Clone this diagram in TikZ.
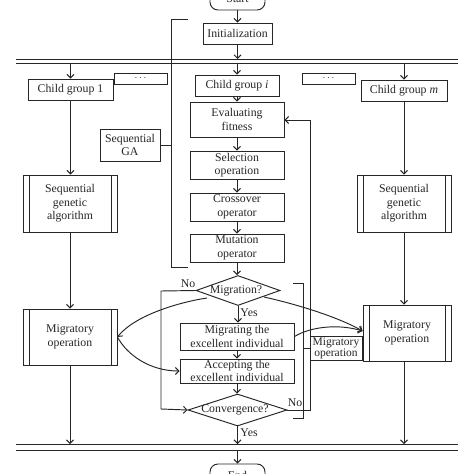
\documentclass[tikz,border=0pt]{standalone}
\usepackage{fontspec}
\setmainfont{Liberation Serif}
\usetikzlibrary{arrows.meta,shapes.geometric}
\begin{document}
\begin{tikzpicture}[x=1pt,y=-1pt,line width=0.95pt,color=black!85,
  every node/.style={font=\fontsize{11.8}{13.6}\selectfont},
  box/.style={draw,rectangle,inner sep=0pt,align=center},
  term/.style={box,rounded corners=8pt},
  dia/.style={draw,diamond,inner sep=0pt},
  lbl/.style={inner sep=0pt},
  arr/.style={-{Straight Barb[length=3.5pt,width=7pt]}}]
\useasboundingbox[fill=white] (0,0) rectangle (474,474);
% double lines
\coordinate (tA) at (16,59);   \coordinate (tB) at (458,59);
\coordinate (tC) at (16,63.5); \coordinate (tD) at (458,63.5);
\coordinate (bA) at (16,444);  \coordinate (bB) at (458,444);
\coordinate (bC) at (16,450);  \coordinate (bD) at (458,450);
\draw (tA) -- (tB); \draw (tC) -- (tD);
\draw (bA) -- (bB); \draw (bC) -- (bD);
% nodes
\node[term,minimum width=55,minimum height=22] (start) at (237.5,-1) {Start};
\node[term,minimum width=55,minimum height=22] (end) at (237.5,475) {End};
\node[box,minimum width=69,minimum height=21] (init) at (237.5,33.5) {Initialization};
\node[box,minimum width=53,minimum height=11] (dots1) at (140.5,78.5) {\fontsize{10}{8}\selectfont$\cdots$};
\node[box,minimum width=53,minimum height=11] (dots2) at (328.5,78.5) {\fontsize{10}{8}\selectfont$\cdots$};
\node[box,minimum width=85,minimum height=21] (cg1) at (70.5,89.5) {Child group 1};
\node[box,minimum width=84,minimum height=21] (cgi) at (237,85.5) {Child group \textit{i}};
\node[box,minimum width=86,minimum height=21] (cgm) at (404,90.5) {Child group \textit{m}};
\node[box,minimum width=94,minimum height=35] (eval) at (237,119.5) {Evaluating\\fitness};
\node[box,minimum width=94,minimum height=28] (sel) at (237,165) {Selection\\operation};
\node[box,minimum width=94,minimum height=28] (cross) at (237,207) {Crossover\\operator};
\node[box,minimum width=94,minimum height=28] (mut) at (237,248) {Mutation\\operator};
\node[dia,aspect=2.8,minimum width=84,minimum height=30] (mig) at (238,290.5) {};
\node[lbl] (migt) at (236,291) {Migration?};
\node[box,minimum width=114,minimum height=27] (migr) at (237,336.5) {Migrating the\\excellent individual};
\node[box,minimum width=114,minimum height=24] (acc) at (237,371) {Accepting the\\excellent individual};
\node[dia,aspect=3.1,minimum width=99,minimum height=32] (conv) at (237.5,410) {};
\node[lbl] (convt) at (235,410) {Convergence?};
\node[box,minimum width=60,minimum height=32] (seqga) at (130,145) {Sequential\\GA};
\node[box,minimum width=94,minimum height=57] (seqL) at (70,203.5) {Sequential\\genetic\\algorithm};
\node[box,minimum width=94,minimum height=57] (seqR) at (404,203.5) {Sequential\\genetic\\algorithm};
\node[box,minimum width=94,minimum height=56] (migL) at (70,337) {Migratory\\operation};
\node[box,minimum width=88,minimum height=56] (migR) at (407,333) {Migratory\\operation};
\node[box,minimum width=52,minimum height=24,font=\fontsize{11.5}{10}\selectfont] (migS) at (336,348) {Migratory\\operation};
\foreach \n in {seqL,seqR,migL,migR}{
  \draw ([xshift=6.5pt]\n.north west) -- ([xshift=6.5pt]\n.south west);
  \draw ([xshift=-6.5pt]\n.north east) -- ([xshift=-6.5pt]\n.south east);}
% labels
\node[lbl] (no1) at (188,284) {No};
\node[lbl,anchor=west] (yes1) at (240,313) {Yes};
\node[lbl] (no2) at (295,403) {No};
\node[lbl,anchor=west] (yes2) at (240,433) {Yes};
% brackets
\coordinate (brA) at (188,19); \coordinate (brB) at (171,19);
\coordinate (brC) at (171,267); \coordinate (brD) at (188,267);
\draw (brA) -- (brB) -- (brC) -- (brD);
\draw (seqga.east) -- (seqga.east -| brB);
\coordinate (rbA) at (293,283); \coordinate (rbB) at (303,283);
\coordinate (rbC) at (303,418); \coordinate (rbD) at (293,418);
\draw (rbA) -- (rbB) -- (rbC) -- (rbD);
\draw (migS.west -| rbB) -- (migS.west);
% main column
\draw[arr] (start.south) -- (init.north);
\draw[arr] (init.south) -- (init.south |- tA);
\draw[arr] (cgi.north |- tC) -- (cgi.north);
\draw[arr] (cg1.north |- tC) -- (cg1.north);
\draw[arr] (cgm.north |- tC) -- (cgm.north);
\draw[arr] (cgi.south) -- (eval.north);
\draw[arr] (eval.south) -- (sel.north);
\draw[arr] (sel.south) -- (cross.north);
\draw[arr] (cross.south) -- (mut.north);
\draw[arr] (mut.south) -- (mut.south |- mig.north);
\draw[arr] (mig.south) -- (mig.south |- migr.north);
\draw[arr] (migr.south) -- (acc.north);
\draw[arr] (acc.south) -- (acc.south |- conv.north);
\draw[arr] (conv.south) -- (conv.south |- bA);
\draw[arr] (end.north |- bC) -- (end.north);
% No loops
\coordinate (nlA) at (161,291); \coordinate (nlB) at (161,409);
\draw[arr] (mig.west) -- (nlA) -- (nlB) -- (conv.west);
\coordinate (lpA) at (310,410); \coordinate (lpB) at (310,120);
\draw[arr] (conv.east) -- (lpA) -- (lpB) -- (eval.east |- lpB);
% side columns
\draw[arr] (cg1.south) -- (cg1.south |- seqL.north);
\draw[arr] (seqL.south) -- (migL.north);
\draw[arr] (migL.south) -- (migL.south |- bA);
\draw[arr] (cgm.south) -- (cgm.south |- seqR.north);
\draw[arr] (seqR.south) -- (seqR.south |- migR.north);
\draw[arr] (seqR.south |- migR.south) -- (seqR.south |- bA);
% curves
\coordinate (c1s) at (207,298);
\draw[arr] (c1s) .. controls (180,302) and (135,315) .. (migL.east);
\draw[arr] (migL.east) .. controls (127,355) and (150,371) .. (acc.west);
\coordinate (c3s) at (264,297);
\draw[arr] (c3s) .. controls (300,305) and (340,318) .. ([yshift=2pt]migR.west);
\draw[arr] (migr.east) .. controls (312,326) and (340,324) .. ([yshift=2pt]migR.west);
\end{tikzpicture}
\end{document}
